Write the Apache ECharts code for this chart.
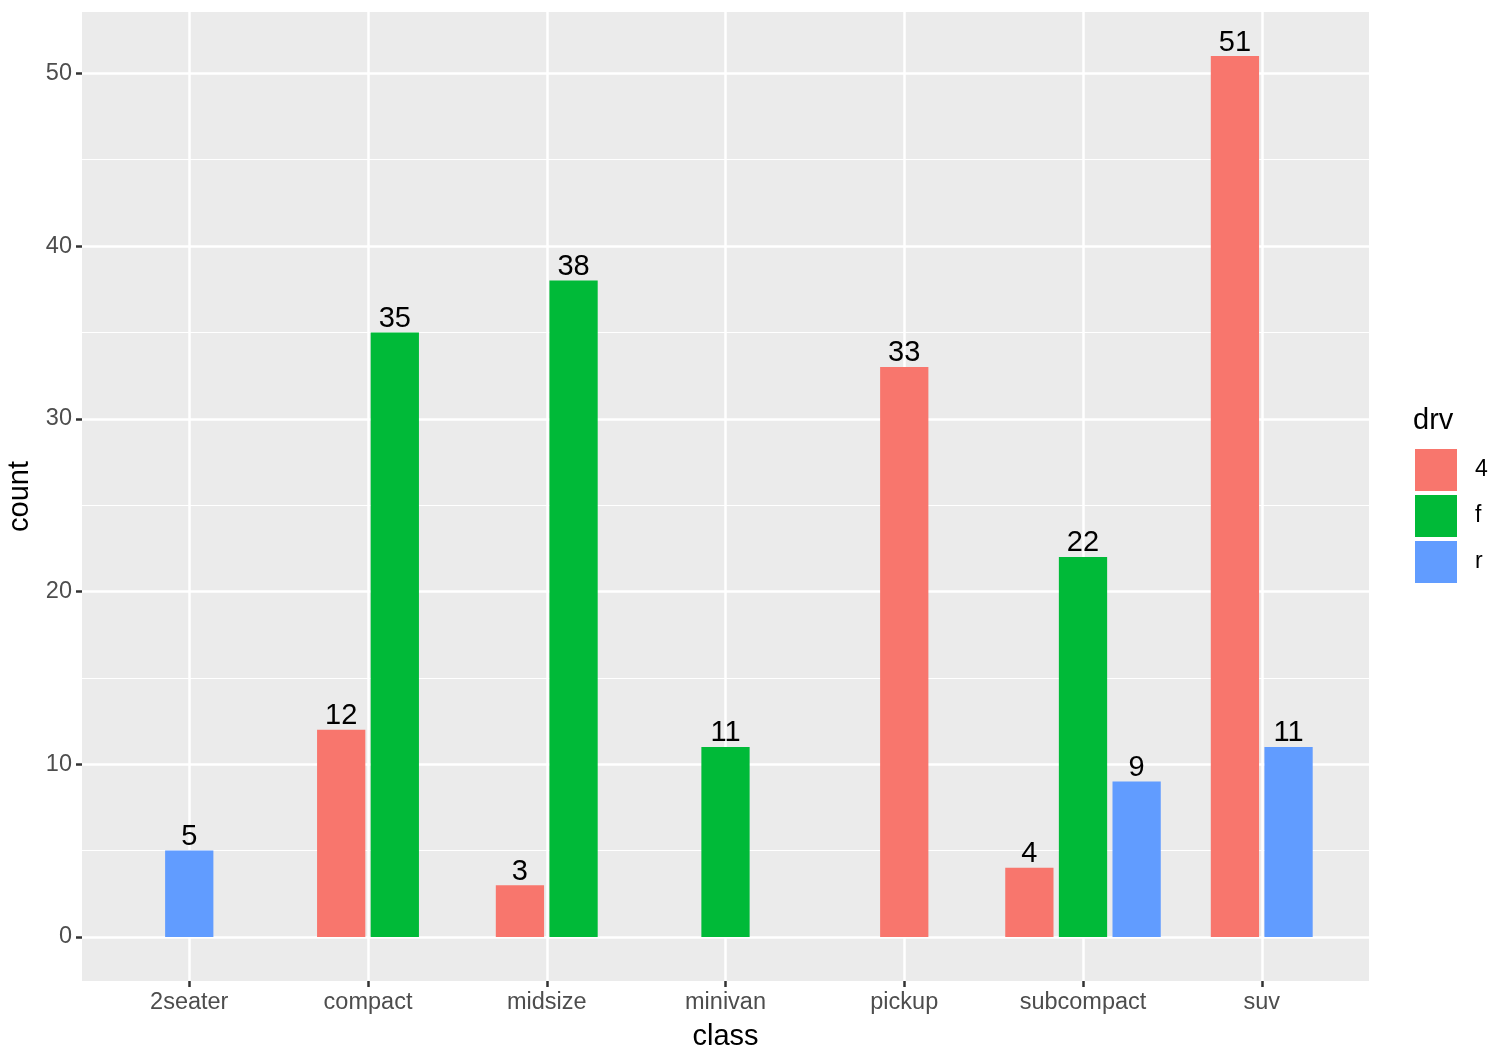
<!DOCTYPE html>
<html>
<head>
<meta charset="utf-8">
<script src="https://cdn.jsdelivr.net/npm/echarts@6/dist/echarts.min.js"></script>
<style>
  html, body { margin: 0; padding: 0; background: #fff; }
  #chart { width: 1500px; height: 1056px; }
</style>
</head>
<body>
<div id="chart"></div>
<script>
// mpg: 车型 x 驱动方式 计数
const classes = ['2seater', 'compact', 'midsize', 'minivan', 'pickup', 'subcompact', 'suv'];
const drvLevels = ['4', 'f', 'r'];
const drvColors = ['#F8766D', '#00BA38', '#619CFF'];
const count4 = [null, 12, 3, null, 33, 4, 51];
const countF = [null, 35, 38, 11, null, 22, null];
const countR = [5, null, null, null, null, 9, 11];
const yTicks = [0, 10, 20, 30, 40, 50];
const yMinor = [5, 15, 25, 35, 45];

const counts = [count4, countF, countR];
const slot = 0.3;      // dodge2 单个柱子占位
const barW = 0.27;     // 去掉 padding 后的宽度

// 每个类别里按出现的组居中排布
let seriesData = [[], [], []];
classes.forEach((c, i) => {
  let present = [];
  counts.forEach((arr, g) => { if (arr[i] != null) present.push(g); });
  present.forEach((g, k) => {
    let off = (k - (present.length - 1) / 2) * slot;
    seriesData[g].push([i + 1, counts[g][i], off]);
  });
});

const yMax = 51 * 1.05;
const yMin = -51 * 0.05;
const font = 'Liberation Sans, Arial, sans-serif';

let chart = echarts.init(document.getElementById('chart'));

let renderBar = (params, api) => {
  let x = api.value(0) + api.value(2);
  let v = api.value(1);
  let p1 = api.coord([x - barW / 2, v]);
  let p2 = api.coord([x + barW / 2, 0]);
  let top = api.coord([x, v]);
  return {
    type: 'group',
    children: [
      {
        type: 'rect',
        shape: { x: p1[0], y: p1[1], width: p2[0] - p1[0], height: p2[1] - p1[1] },
        style: { fill: api.visual('color') }
      },
      {
        type: 'text',
        x: top[0], y: top[1] + 1,
        style: {
          text: String(v), fill: '#000', fontSize: 29, fontFamily: font,
          align: 'center', verticalAlign: 'bottom'
        }
      }
    ]
  };
};

let option = {
  animation: false,
  textStyle: { fontFamily: font },
  grid: {
    left: 82, right: 131, top: 12, bottom: 75,
    outerBoundsMode: 'none', containLabel: false,
    show: true, backgroundColor: '#EBEBEB', borderWidth: 0
  },
  legend: {
    orient: 'vertical',
    left: 1415, top: 449, padding: 0,
    itemWidth: 42, itemHeight: 42, itemGap: 4,
    icon: 'rect',
    data: drvLevels,
    textStyle: { fontSize: 23, color: '#000', padding: [0, 0, 6, 13] }
  },
  graphic: [
    {
      type: 'text', left: 1413, top: 406,
      style: { text: 'drv', fontSize: 29, fill: '#000', fontFamily: font }
    }
  ],
  xAxis: {
    type: 'value',
    min: 0.4, max: 7.6,
    name: 'class', nameLocation: 'middle', nameGap: 41,
    nameTextStyle: { fontSize: 29, color: '#000' },
    axisLine: { show: false, onZero: false },
    axisTick: { show: true, customValues: [1, 2, 3, 4, 5, 6, 7], length: 6, lineStyle: { color: '#333', width: 2.5 } },
    axisLabel: {
      customValues: [1, 2, 3, 4, 5, 6, 7],
      formatter: v => classes[Math.round(v) - 1],
      fontSize: 23.5, color: '#4D4D4D', margin: 10
    },
    splitLine: { show: true, lineStyle: { color: '#fff', width: 2.5 } }
  },
  yAxis: [
    {
      type: 'value',
      min: yMin, max: yMax,
      name: 'count', nameLocation: 'middle', nameGap: 48, nameRotate: 90,
      nameTextStyle: { fontSize: 29, color: '#000' },
      axisLine: { show: false, onZero: false },
      axisTick: { show: true, customValues: yTicks, length: 6, lineStyle: { color: '#333', width: 2.5 } },
      axisLabel: { customValues: yTicks, fontSize: 23.5, color: '#4D4D4D', margin: 10 },
      splitLine: { show: true, lineStyle: { color: '#fff', width: 2.5 } }
    },
    {
      type: 'value',
      min: yMin, max: yMax,
      position: 'left',
      axisLine: { show: false, onZero: false },
      axisTick: { show: false, customValues: yMinor },
      axisLabel: { show: false, customValues: yMinor },
      splitLine: { show: true, lineStyle: { color: '#fff', width: 1.2 } }
    }
  ],
  series: drvLevels.map((d, g) => ({
    name: d,
    type: 'custom',
    renderItem: renderBar,
    itemStyle: { color: drvColors[g] },
    encode: { x: 0, y: 1 },
    data: seriesData[g],
    z: 3
  }))
};

chart.setOption(option);
window.onresize = () => { chart.resize(); };
</script>
</body>
</html>
